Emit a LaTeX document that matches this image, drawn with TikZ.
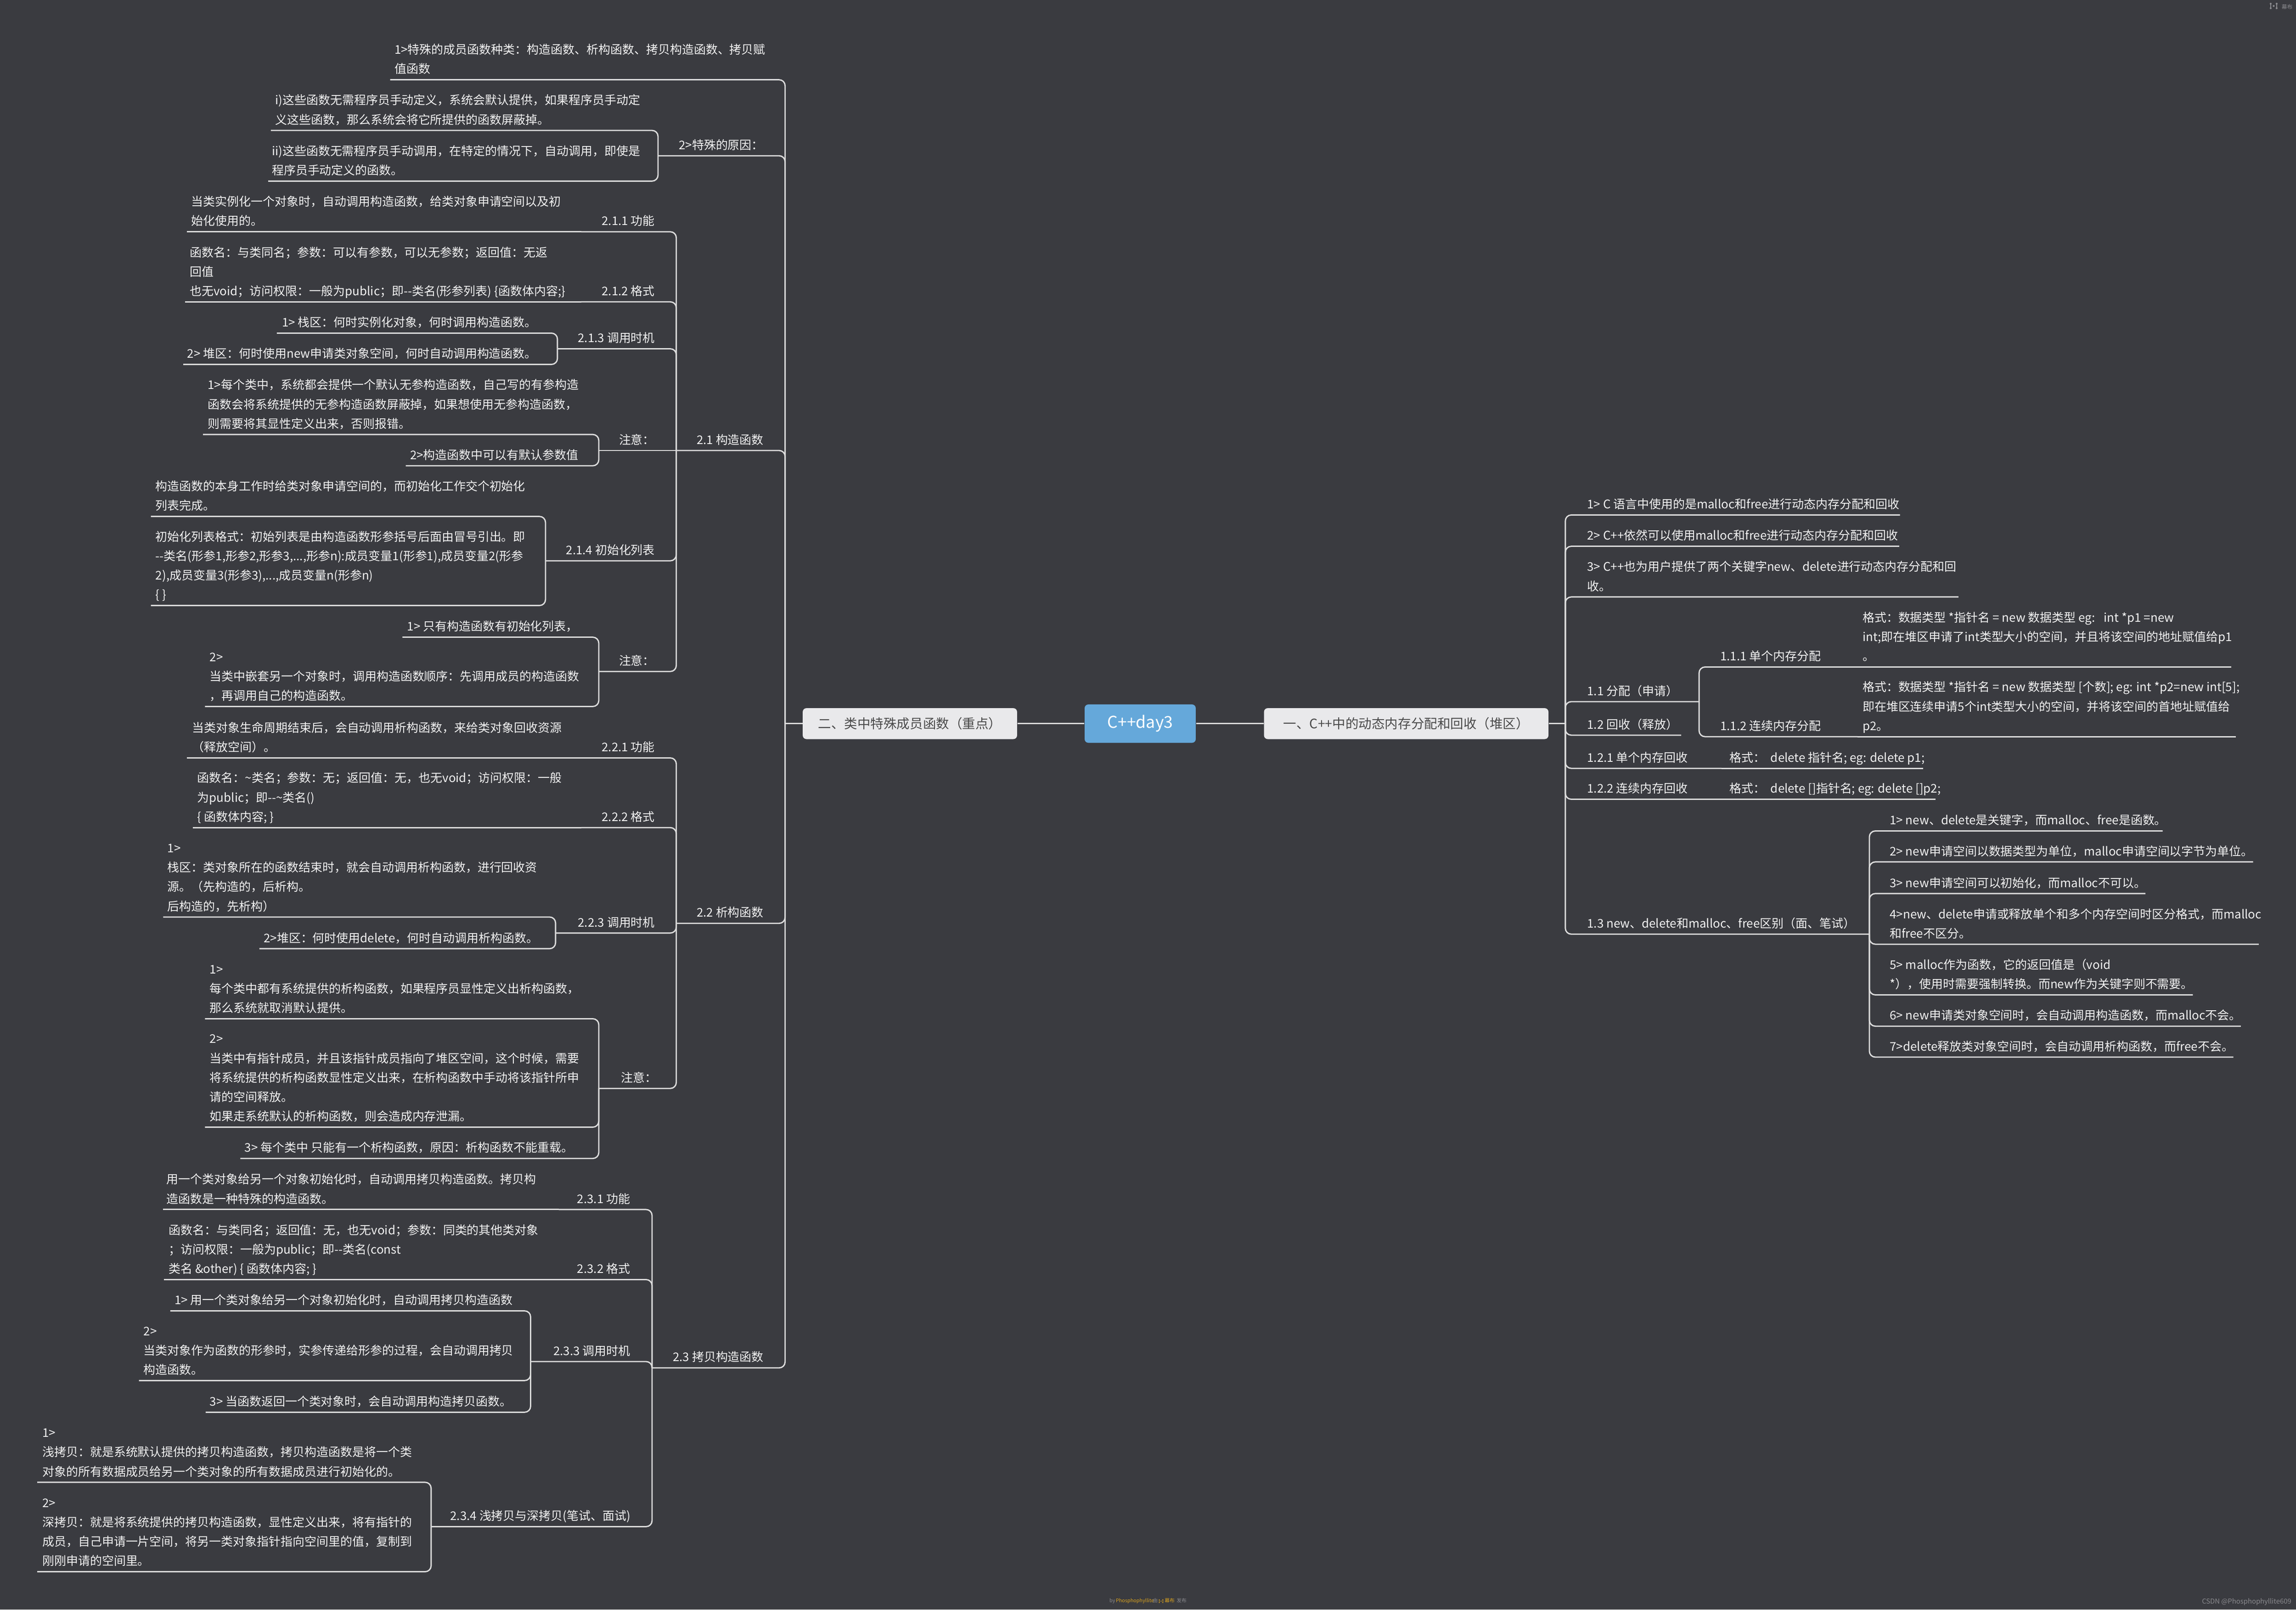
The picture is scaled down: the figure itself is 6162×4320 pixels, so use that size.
\documentclass[tikz,border=0pt]{standalone}
\usepackage{fontspec}
\setmainfont{Noto Sans CJK SC}
\usetikzlibrary{calc}
\definecolor{bg}{HTML}{3A3B40}
\definecolor{ln}{HTML}{DCDCDC}
\definecolor{tx}{HTML}{F2F2F2}
\definecolor{mainbox}{HTML}{E9E9EB}
\definecolor{maintx}{HTML}{4A4A4A}
\definecolor{rootbox}{HTML}{65A8DA}
\definecolor{footg}{HTML}{8A8A8E}
\definecolor{footo}{HTML}{D9A21F}
\newcommand\ml[1]{\begin{tabular}[b]{@{}l@{}}#1\end{tabular}}
\newcommand\leaffont{\fontsize{9.1pt}{14.8pt}\selectfont}
\newcommand\topicL[5]{\coordinate (#1) at (#2,#3);\node[tl] (#1t) at (#4,#3-17) {#5};}
\newcommand\topicR[5]{\coordinate (#1) at (#2,#3);\node[tr] (#1t) at (#4,#3-17) {#5};}
% mubu logo: x, y, scale, colour, bar width
\newcommand\mubuicon[5]{%
  \begin{scope}[shift={(#1,#2)},scale=#3]
    \draw[#4,line width=#5] (-8,-6) -- (-8,6) (8,-6) -- (8,6);
    \fill[#4] (-8,-6) circle (2.6) (-8,6) circle (2.6) (8,-6) circle (2.6) (8,6) circle (2.6) (0,0) circle (2.6);
  \end{scope}}
\begin{document}
\begin{tikzpicture}[x=0.01cm,y=-0.01cm,
  tl/.style={anchor=base west,inner sep=0pt,text=tx,font=\leaffont},
  tr/.style={anchor=base east,inner sep=0pt,text=tx,font=\leaffont},
  link/.style={draw=ln,line width=1pt,rounded corners=0.16cm},
  mainnode/.style={fill=mainbox,text=maintx,rounded corners=0.1cm,minimum height=0.83cm,inner sep=0pt,font=\fontsize{10pt}{12pt}\selectfont},
  rootnode/.style={fill=rootbox,text=white,rounded corners=0.1cm,minimum height=1.03cm,minimum width=2.98cm,inner sep=0pt,font=\fontsize{12.5pt}{14pt}\selectfont},
  footfont/.style={inner sep=0pt,font=\fontsize{3.8pt}{4.5pt}\selectfont}]
\fill[bg] (0,0) rectangle (6162,4320);
\useasboundingbox (0,0) rectangle (6162,4320);

% central and main nodes
\node[rootnode] (root) at (3060,1942) {C++day3};
\node[mainnode,minimum width=5.75cm] (Lmain) at (2442,1942) {二、类中特殊成员函数（重点）};
\node[mainnode,minimum width=7.63cm] (Rmain) at (3774,1942) {一、C++中的动态内存分配和回收（堆区）};

% ---------------- LEFT ----------------
\coordinate (TL) at (2107,1942);
\topicL{A}{1047}{214}{1058}{\ml{1>特殊的成员函数种类：构造函数、析构函数、拷贝构造函数、拷贝赋\\值函数}}
\topicR{B}{1766}{418}{2050}{2>特殊的原因：}
\topicL{B1}{727}{350}{738}{\ml{i)这些函数无需程序员手动定义，系统会默认提供，如果程序员手动定\\义这些函数，那么系统会将它所提供的函数屏蔽掉。}}
\topicL{B2}{720}{486}{729}{\ml{ii)这些函数无需程序员手动调用，在特定的情况下，自动调用，即使是\\程序员手动定义的函数。}}

\topicR{C}{1815}{1209}{2050}{2.1 构造函数}
\topicR{C1}{1560}{622}{1758}{2.1.1 功能}
\topicL{C1a}{501}{622}{513}{\ml{当类实例化一个对象时，自动调用构造函数，给类对象申请空间以及初\\始化使用的。}}
\topicR{C2}{1560}{810}{1758}{2.1.2 格式}
\topicL{C2a}{497}{810}{509}{\ml{函数名：与类同名；参数：可以有参数，可以无参数；返回值：无返\\回值\\也无void；访问权限：一般为public；即-{}-类名(形参列表) \{函数体内容;\}}}
\topicR{C3}{1496}{936}{1758}{2.1.3 调用时机}
\topicL{C3a}{743}{894}{756}{1> 栈区：何时实例化对象，何时调用构造函数。}
\topicL{C3b}{492}{978}{502}{2> 堆区：何时使用new申请类对象空间，何时自动调用构造函数。}
\topicR{C4}{1607}{1209}{1758}{注意：}
\topicL{C4a}{545}{1166}{557}{\ml{1>每个类中，系统都会提供一个默认无参构造函数，自己写的有参构造\\函数会将系统提供的无参构造函数屏蔽掉，如果想使用无参构造函数，\\则需要将其显性定义出来，否则报错。}}
\topicL{C4b}{1089}{1250}{1100}{2>构造函数中可以有默认参数值}
\topicR{C5}{1464}{1505}{1758}{2.1.4 初始化列表}
\topicL{C5a}{405}{1386}{417}{\ml{构造函数的本身工作时给类对象申请空间的，而初始化工作交个初始化\\列表完成。}}
\topicL{C5b}{405}{1625}{417}{\ml{初始化列表格式：初始列表是由构造函数形参括号后面由冒号引出。即\\-{}-类名(形参1,形参2,形参3,...,形参n):成员变量1(形参1),成员变量2(形参\\2),成员变量3(形参3),...,成员变量n(形参n)\\\{ \}}}
\topicR{C6}{1607}{1802}{1758}{注意：}
\topicL{C6a}{1080}{1710}{1092}{1> 只有构造函数有初始化列表，}
\topicL{C6b}{550}{1896}{562}{\ml{2>\\当类中嵌套另一个对象时，调用构造函数顺序：先调用成员的构造函数\\，再调用自己的构造函数。}}

\topicR{D}{1815}{2478}{2050}{2.2 析构函数}
\topicR{D1}{1560}{2034}{1758}{2.2.1 功能}
\topicL{D1a}{501}{2034}{515}{\ml{当类对象生命周期结束后，会自动调用析构函数，来给类对象回收资源\\（释放空间）。}}
\topicR{D2}{1560}{2221}{1758}{2.2.2 格式}
\topicL{D2a}{517}{2221}{529}{\ml{函数名：\textasciitilde 类名；参数：无；返回值：无，也无void；访问权限：一般\\为public；即-{}-\textasciitilde 类名()\\\{ 函数体内容; \}}}
\topicR{D3}{1491}{2504}{1758}{2.2.3 调用时机}
\topicL{D3a}{438}{2461}{449}{\ml{1>\\栈区：类对象所在的函数结束时，就会自动调用析构函数，进行回收资\\源。（先构造的，后析构。\\后构造的，先析构）}}
\topicL{D3b}{696}{2546}{707}{2>堆区：何时使用delete，何时自动调用析构函数。}
\topicR{D4}{1607}{2921}{1763}{注意：}
\topicL{D4a}{550}{2734}{562}{\ml{1>\\每个类中都有系统提供的析构函数，如果程序员显性定义出析构函数，\\那么系统就取消默认提供。}}
\topicL{D4b}{550}{3025}{562}{\ml{2>\\当类中有指针成员，并且该指针成员指向了堆区空间，这个时候，需要\\将系统提供的析构函数显性定义出来，在析构函数中手动将该指针所申\\请的空间释放。\\如果走系统默认的析构函数，则会造成内存泄漏。}}
\topicL{D4c}{645}{3109}{656}{3> 每个类中 只能有一个析构函数，原因：析构函数不能重载。}

\topicR{E}{1750}{3671}{2050}{2.3 拷贝构造函数}
\topicR{E1}{1500}{3246}{1692}{2.3.1 功能}
\topicL{E1a}{437}{3246}{446}{\ml{用一个类对象给另一个对象初始化时，自动调用拷贝构造函数。拷贝构\\造函数是一种特殊的构造函数。}}
\topicR{E2}{1500}{3434}{1692}{2.3.2 格式}
\topicL{E2a}{440}{3434}{452}{\ml{函数名：与类同名；返回值：无，也无void；参数：同类的其他类对象\\；访问权限：一般为public；即-{}-类名(const\\类名 \&other) \{ 函数体内容; \}}}
\topicR{E3}{1424}{3654}{1692}{2.3.3 调用时机}
\topicL{E3a}{457}{3518}{468}{1> 用一个类对象给另一个对象初始化时，自动调用拷贝构造函数}
\topicL{E3b}{373}{3705}{385}{\ml{2>\\当类对象作为函数的形参时，实参传递给形参的过程，会自动调用拷贝\\构造函数。}}
\topicL{E3c}{552}{3790}{562}{3> 当函数返回一个类对象时，会自动调用构造拷贝函数。}
\topicR{E4}{1157}{4097}{1693}{2.3.4 浅拷贝与深拷贝(笔试、面试)}
\topicL{E4a}{100}{3978}{113}{\ml{1>\\浅拷贝：就是系统默认提供的拷贝构造函数，拷贝构造函数是将一个类\\对象的所有数据成员给另一个类对象的所有数据成员进行初始化的。}}
\topicL{E4b}{100}{4218}{113}{\ml{2>\\深拷贝：就是将系统提供的拷贝构造函数，显性定义出来，将有指针的\\成员，自己申请一片空间，将另一类对象指针指向空间里的值，复制到\\刚刚申请的空间里。}}

% ---------------- RIGHT ----------------
\coordinate (TR) at (4201,1942);
\topicL{R1}{5099}{1382}{4259}{1> C 语言中使用的是malloc和free进行动态内存分配和回收}
\topicL{R2}{5097}{1466}{4259}{2> C++依然可以使用malloc和free进行动态内存分配和回收}
\topicL{R3}{5256}{1602}{4259}{\ml{3> C++也为用户提供了两个关键字new、delete进行动态内存分配和回\\收。}}
\topicL{R4}{4560}{1883}{4259}{1.1 分配（申请）}
\topicL{R4a}{4985}{1790}{4616}{1.1.1 单个内存分配}
\topicL{R4aa}{5988}{1790}{4998}{\ml{格式：数据类型 *指针名 = new 数据类型 eg:~~ int *p1 =new\\int;即在堆区申请了int类型大小的空间，并且将该空间的地址赋值给p1\\。}}
\topicL{R4b}{4985}{1977}{4616}{1.1.2 连续内存分配}
\topicL{R4bb}{6000}{1977}{4998}{\ml{格式：数据类型 *指针名 = new 数据类型 [个数]; eg: int *p2=new int[5];\\即在堆区连续申请5个int类型大小的空间，并将该空间的首地址赋值给\\p2。}}
\topicL{R5}{4512}{1973}{4259}{1.2 回收（释放）}
\topicL{R6}{4620}{2062}{4259}{1.2.1 单个内存回收}
\topicL{R6a}{5161}{2062}{4641}{格式：\ \ delete 指针名; eg: delete p1;}
\topicL{R7}{4620}{2145}{4259}{1.2.2 连续内存回收}
\topicL{R7a}{5194}{2145}{4641}{格式：\ \ delete []指针名; eg: delete []p2;}
\topicL{R8}{5017}{2507}{4259}{1.3 new、delete和malloc、free区别（面、笔试）}
\topicL{R8a}{5804}{2230}{5071}{1> new、delete是关键字，而malloc、free是函数。}
\topicL{R8b}{6047}{2313}{5071}{2> new申请空间以数据类型为单位，malloc申请空间以字节为单位。}
\topicL{R8c}{5758}{2398}{5071}{3> new申请空间可以初始化，而malloc不可以。}
\topicL{R8d}{6062}{2534}{5071}{\ml{4>new、delete申请或释放单个和多个内存空间时区分格式，而malloc\\和free不区分。}}
\topicL{R8e}{5885}{2670}{5071}{\ml{5> malloc作为函数，它的返回值是（void\\{}*），使用时需要强制转换。而new作为关键字则不需要。}}
\topicL{R8f}{6014}{2754}{5071}{6> new申请类对象空间时，会自动调用构造函数，而malloc不会。}
\topicL{R8g}{5994}{2837}{5071}{7>delete释放类对象空间时，会自动调用析构函数，而free不会。}

% ---------------- CONNECTORS ----------------
\draw[link] (root.west) -- (Lmain.east);
\draw[link] (root.east) -- (Rmain.west);
\draw[link] (Lmain.west) -- (TL);
\foreach \c in {A,B,C,D,E} \draw[link] (\c) -| (TL);
\foreach \c in {B1,B2} \draw[link] (\c) -| (B);
\draw[link] (C1a) -- (C1);
\draw[link] (C2a) -- (C2);
\draw[link] (C4) -- (C);
\foreach \c in {C1,C2,C3,C5,C6} \draw[link] (\c) -| (C);
\foreach \c in {C3a,C3b} \draw[link] (\c) -| (C3);
\foreach \c in {C4a,C4b} \draw[link] (\c) -| (C4);
\foreach \c in {C5a,C5b} \draw[link] (\c) -| (C5);
\foreach \c in {C6a,C6b} \draw[link] (\c) -| (C6);
\draw[link] (D1a) -- (D1);
\draw[link] (D2a) -- (D2);
\foreach \c in {D1,D2,D3,D4} \draw[link] (\c) -| (D);
\foreach \c in {D3a,D3b} \draw[link] (\c) -| (D3);
\foreach \c in {D4a,D4b,D4c} \draw[link] (\c) -| (D4);
\draw[link] (E1a) -- (E1);
\draw[link] (E2a) -- (E2);
\foreach \c in {E1,E2,E3,E4} \draw[link] (\c) -| (E);
\foreach \c in {E3a,E3b,E3c} \draw[link] (\c) -| (E3);
\foreach \c in {E4a,E4b} \draw[link] (\c) -| (E4);

\draw[link] (Rmain.east) -- (TR);
\foreach \c in {R1,R2,R3,R4,R5,R6,R7,R8} \draw[link] (\c) -| (TR);
\draw[link] (R4aa) -- (R4a);
\draw[link] (R4bb) -- (R4b);
\foreach \c in {R4a,R4b} \draw[link] (\c) -| (R4);
\draw[link] (R6a) -- (R6);
\draw[link] (R7a) -- (R7);
\foreach \c in {R8a,R8b,R8c,R8d,R8e,R8f,R8g} \draw[link] (\c) -| (R8);

% top-right mark
\mubuicon{6102}{16}{1}{footg}{0.7pt}
\node[anchor=base west,inner sep=0pt,font=\fontsize{4.1pt}{5pt}\selectfont,text=footg] (topmark) at (6123,24) {幕布};

% footer
\node[footfont,anchor=base west,text=footg] (fby) at (2977,4301) {by};
\node[footfont,anchor=base west,text=footo] (fname) at (2994,4301) {Phosphophyllite};
\node[footfont,anchor=base west,text=footg] (fyou) at (3093,4301) {由};
\mubuicon{3116}{4297}{0.6}{footo}{0.45pt}
\node[footfont,anchor=base west,text=footo] (fmubu) at (3125,4301) {幕布};
\node[footfont,anchor=base west,text=footg] (fpub) at (3157,4301) {发布};
\node[anchor=base east,inner sep=0pt,font=\fontsize{5.2pt}{6pt}\selectfont,text=footg] (csdn) at (6150,4304) {CSDN @Phosphophyllite609};
\end{tikzpicture}
\end{document}
